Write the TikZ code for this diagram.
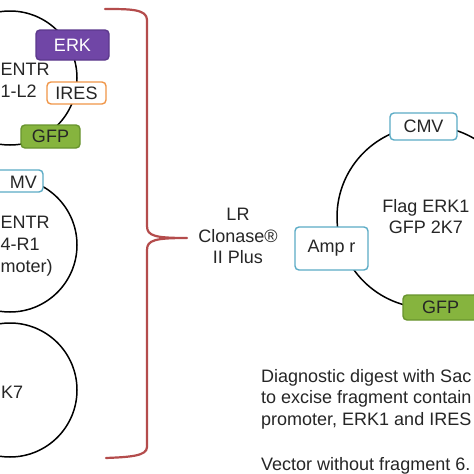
\documentclass[tikz,border=0pt]{standalone}
\usepackage{fontspec}
\setmainfont{Liberation Sans}
\definecolor{ercol}{RGB}{112,70,166}
\definecolor{erdraw}{RGB}{92,56,140}
\definecolor{gfpcol}{RGB}{134,180,62}
\definecolor{gfpdraw}{RGB}{104,148,46}
\definecolor{bluedraw}{RGB}{92,172,198}
\definecolor{orangedraw}{RGB}{240,150,72}
\definecolor{bracecol}{RGB}{180,76,76}
\tikzset{
  plasmid/.style={circle,draw=black,line width=1.5pt,inner sep=0pt},
  feat/.style={rounded corners=4pt,line width=1.4pt,inner sep=0pt,font=\fontsize{18}{21}\selectfont},
  ercbox/.style={feat,fill=ercol,draw=erdraw,text=white},
  gfpbox/.style={feat,fill=gfpcol,draw=gfpdraw,text=black!85},
  bluebox/.style={feat,fill=white,draw=bluedraw,text=black!85},
  orbox/.style={feat,fill=white,draw=orangedraw,text=black!85},
  lbl/.style={inner sep=0pt,font=\fontsize{18}{21}\selectfont,text=black!85},
  brace/.style={draw=bracecol,line width=2.2pt,line cap=round,line join=round}
}
\begin{document}
\begin{tikzpicture}[x=1pt,y=-1pt]
\useasboundingbox (0,0) rectangle (474,474);
\clip (0,0) rectangle (474,474);
\fill[white] (0,0) rectangle (474,474);
% plasmids
\node[plasmid,minimum size=134pt] (p1) at (10,78) {};
\node[plasmid,minimum size=134pt] (p2) at (10,245) {};
\node[plasmid,minimum size=134pt] (p3) at (10,390) {};
\node[plasmid,minimum size=182pt] (p4) at (428,217) {};
% features plasmid 1
\node[ercbox,minimum width=73pt,minimum height=30pt] (erk) at (72.5,45) {ERK};
\node[orbox,minimum width=59pt,minimum height=22pt] (ires) at (76.5,93) {IRES};
\node[gfpbox,minimum width=59pt,minimum height=23pt] (gfp1) at (50.5,136.5) {GFP};
% plasmid 2 CMV (cut by edge)
\draw[feat,draw=bluedraw,fill=white] (-30,170) rectangle (43,192);
\node[lbl,anchor=base east] (cmvl) at (37,188) {MV};
% texts left
\node[lbl,anchor=base west] (t1a) at (0.5,75) {ENTR};
\node[lbl,anchor=base west] (t1b) at (0.5,97) {1-L2};
\node[lbl,anchor=base west] (t2a) at (0.5,228.5) {ENTR};
\node[lbl,anchor=base west] (t2b) at (0.5,250) {4-R1};
\node[lbl,anchor=base west] (t2c) at (0.5,272) {moter)};
\node[lbl,anchor=base west] (t3a) at (1,398.5) {K7};
% brace
\coordinate (btop) at (105,9);
\coordinate (bbot) at (106,458);
\coordinate (btip) at (187,238);
\draw[brace] (btop) .. controls (130,9) and (147,9) .. (147,20)
  -- (147,226) .. controls (147,236) and (155,238) .. (btip)
  .. controls (155,238) and (147,240) .. (147,250)
  -- (147,447) .. controls (147,456) and (130,457) .. (bbot);
% LR clonase
\node[lbl,anchor=base] (lr1) at (238,220) {LR};
\node[lbl,anchor=base] (lr2) at (238,242.5) {Clonase®};
\node[lbl,anchor=base] (lr3) at (238,263) {II Plus};
% right plasmid features
\node[bluebox,minimum width=67pt,minimum height=27pt] (cmv) at (423.5,126.5) {CMV};
\node[bluebox,minimum width=73pt,minimum height=43pt] (amp) at (331.5,248.5) {Amp r};
\node[gfpbox,minimum width=76pt,minimum height=25pt,text width=74pt,align=left] (gfp2) at (441,307.5) {\hspace*{18pt}GFP};
\node[lbl,anchor=base] (fl1) at (426,212) {Flag ERK1};
\node[lbl,anchor=base] (fl2) at (426,233) {GFP 2K7};
% bottom text
\node[lbl,anchor=base west] (d1) at (261,382) {Diagnostic digest with Sac};
\node[lbl,anchor=base west] (d2) at (261,403.5) {to excise fragment contain};
\node[lbl,anchor=base west] (d3) at (261,425) {promoter, ERK1 and IRES};
\node[lbl,anchor=base west] (d4) at (261,470) {Vector without fragment 6.};
\end{tikzpicture}
\end{document}
